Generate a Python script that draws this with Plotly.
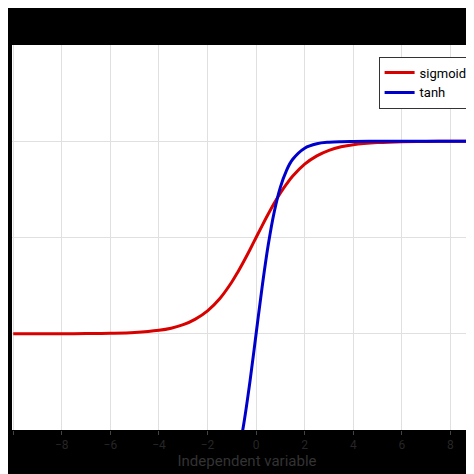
import plotly.graph_objects as go

x = [-10, -9, -8, -7, -6, -5, -4, -3.5, -3, -2.5, -2, -1.5, -1, -0.75, -0.5, -0.25, 0,
     0.25, 0.5, 0.75, 1, 1.25, 1.5, 2, 2.5, 3, 3.5, 4, 5, 6, 7, 8, 9, 10]
sigmoid = [0.0000, 0.0001, 0.0003, 0.0009, 0.0025, 0.0067, 0.018, 0.029, 0.047, 0.076,
           0.119, 0.182, 0.269, 0.321, 0.378, 0.438, 0.500, 0.562, 0.622, 0.679, 0.731,
           0.777, 0.818, 0.881, 0.924, 0.953, 0.971, 0.982, 0.993, 0.998, 0.999, 1.0, 1.0, 1.0]
tanh = [-1.0, -1.0, -1.0, -1.0, -1.0, -1.0, -0.999, -0.998, -0.995, -0.987, -0.964, -0.905,
        -0.762, -0.635, -0.462, -0.245, 0.0, 0.245, 0.462, 0.635, 0.762, 0.848, 0.905,
        0.964, 0.987, 0.995, 0.998, 0.999, 1.0, 1.0, 1.0, 1.0, 1.0, 1.0]
xticks = [-10, -8, -6, -4, -2, 0, 2, 4, 6, 8]

fig = go.Figure()
fig.add_trace(go.Scatter(x=x, y=sigmoid, name="sigmoid", mode="lines",
                         line=dict(color="#d90000", width=3, shape="spline")))
fig.add_trace(go.Scatter(x=x, y=tanh, name="tanh", mode="lines",
                         line=dict(color="#0000cc", width=3, shape="spline")))

fig.update_layout(
    width=474, height=474,
    paper_bgcolor="black", plot_bgcolor="white",
    margin=dict(l=4, r=0, t=37, b=52, autoexpand=False),
    font=dict(family="Roboto, Arial", size=12, color="#262626"),
    showlegend=True,
    legend=dict(x=0.78, y=0.97, xanchor="left", yanchor="top",
                bgcolor="white", bordercolor="#333", borderwidth=1,
                font=dict(size=13, color="black")),
)
fig.update_xaxes(range=[-10.05, 9.3], tickvals=xticks, showgrid=True, gridcolor="#e0e0e0",
                 zeroline=False, ticks="outside", ticklen=4, tickcolor="#444", automargin=False,
                 title=dict(text="Independent variable", font=dict(size=15, color="#333"),
                            standoff=4))
fig.update_yaxes(range=[-0.5, 1.5], dtick=0.5, showgrid=True, gridcolor="#e0e0e0",
                 zeroline=False, showticklabels=False, automargin=False)

fig.write_html("out.html")
